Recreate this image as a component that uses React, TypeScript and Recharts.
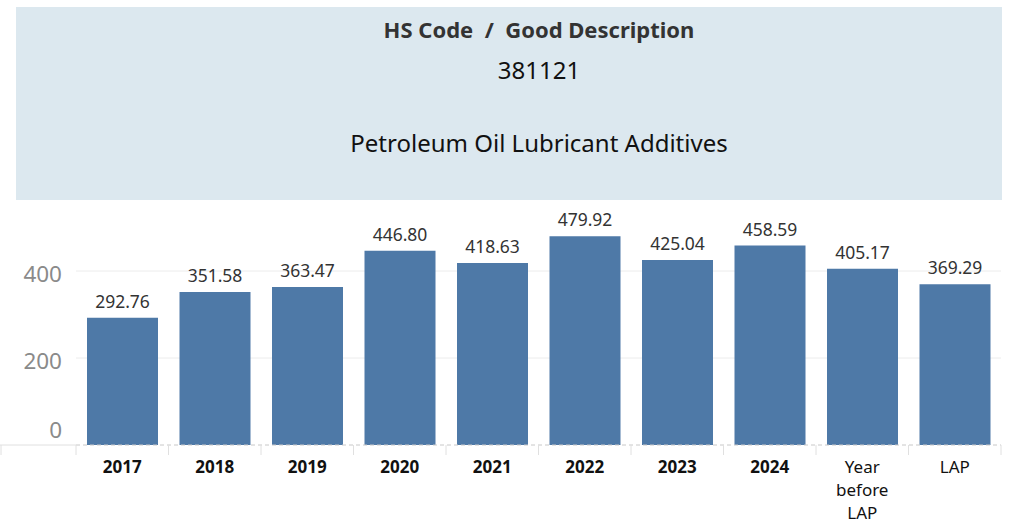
import React from 'react';
import { BarChart, Bar, XAxis, YAxis, CartesianGrid, ReferenceLine, LabelList } from 'recharts';

const categories = ['2017', '2018', '2019', '2020', '2021', '2022', '2023', '2024', 'Year before LAP', 'LAP'];
const values = [292.76, 351.58, 363.47, 446.8, 418.63, 479.92, 425.04, 458.59, 405.17, 369.29];
const yTicks = [0, 200, 400];
const titleLines = ['HS Code  /  Good Description', '381121', 'Petroleum Oil Lubricant Additives'];

const data = categories.map((c, i) => ({ name: c, value: values[i] }));

const FONT = '"Noto Sans", "Open Sans", sans-serif';
const STEP = 92.5;

function XTick(props: any) {
  const { x, y, payload } = props;
  const words = String(payload.value).split(' ');
  const multi = words.length > 1;
  const lines = multi ? words : [payload.value];
  return (
    <g>
      <line x1={x - STEP / 2} x2={x - STEP / 2} y1={y - 8} y2={y + 2} stroke="#e0e0e0" />
      {payload.index === categories.length - 1 && (
        <line x1={x + STEP / 2} x2={x + STEP / 2} y1={y - 8} y2={y + 2} stroke="#e0e0e0" />
      )}
      {lines.map((l: string, i: number) => (
        <text
          key={i}
          x={x}
          y={y + 13 + i * 23}
          textAnchor="middle"
          dominantBaseline="central"
          fontFamily={FONT}
          fontSize={17}
          fontWeight={multi || l === 'LAP' ? 400 : 700}
          fill="#111"
        >
          {l}
        </text>
      ))}
    </g>
  );
}

function YTick(props: any) {
  const { x, y, payload } = props;
  const shift = payload.value === 0 ? -16 : 2;
  return (
    <g>
      {payload.value === 0 && <line x1={0} x2={76} y1={y} y2={y} stroke="#e0e0e0" />}
      {payload.value === 0 && <line x1={1} x2={1} y1={y} y2={y + 10} stroke="#e0e0e0" />}
      <text
        x={x - 6}
        y={y + shift}
        textAnchor="end"
        dominantBaseline="central"
        fontFamily={FONT}
        fontSize={22.5}
        fill="#8a8a8a"
      >
        {payload.value}
      </text>
    </g>
  );
}

export default function App() {
  return (
    <div style={{ position: 'absolute', left: 0, top: 0, width: 1012, height: 522, background: '#fff', overflow: 'hidden' }}>
      <div
        style={{
          position: 'absolute',
          left: 16,
          top: 7,
          width: 986,
          height: 193,
          background: '#dce8ef',
        }}
      />
      <div style={{ position: 'absolute', left: 0, top: 0, width: 1078, textAlign: 'center', fontFamily: FONT }}>
        <div style={{ position: 'absolute', top: 13, width: '100%', fontSize: 22, fontWeight: 700, color: '#333', whiteSpace: 'pre', lineHeight: '32px' }}>
          {titleLines[0]}
        </div>
        <div style={{ position: 'absolute', top: 54, width: '100%', fontSize: 24, color: '#111', lineHeight: '32px' }}>{titleLines[1]}</div>
        <div style={{ position: 'absolute', top: 127, width: '100%', fontSize: 24, color: '#111', lineHeight: '32px' }}>{titleLines[2]}</div>
      </div>
      <div style={{ position: 'absolute', left: 0, top: 200 }}>
        <BarChart
          width={1012}
          height={322}
          data={data}
          margin={{ top: 27.5, right: 11, bottom: 0, left: 0 }}
          barCategoryGap={11}
        >
          <CartesianGrid vertical={false} stroke="#ececec" horizontalValues={[200, 400]} />
          <XAxis
            dataKey="name"
            interval={0}
            axisLine={false}
            tickLine={false}
            height={77}
            tick={<XTick />}
          />
          <YAxis
            domain={[0, 500]}
            ticks={yTicks}
            axisLine={false}
            tickLine={false}
            width={76}
            tick={<YTick />}
          />
          <ReferenceLine y={0} stroke="#c8c8c8" strokeDasharray="4 3" />
          <Bar dataKey="value" fill="#4e79a7" isAnimationActive={false}>
            <LabelList
              dataKey="value"
              position="top"
              offset={10}
              formatter={(v: any) => Number(v).toFixed(2)}
              fontFamily={FONT}
              fontSize={17.5}
              fill="#333"
            />
          </Bar>
        </BarChart>
      </div>
    </div>
  );
}
